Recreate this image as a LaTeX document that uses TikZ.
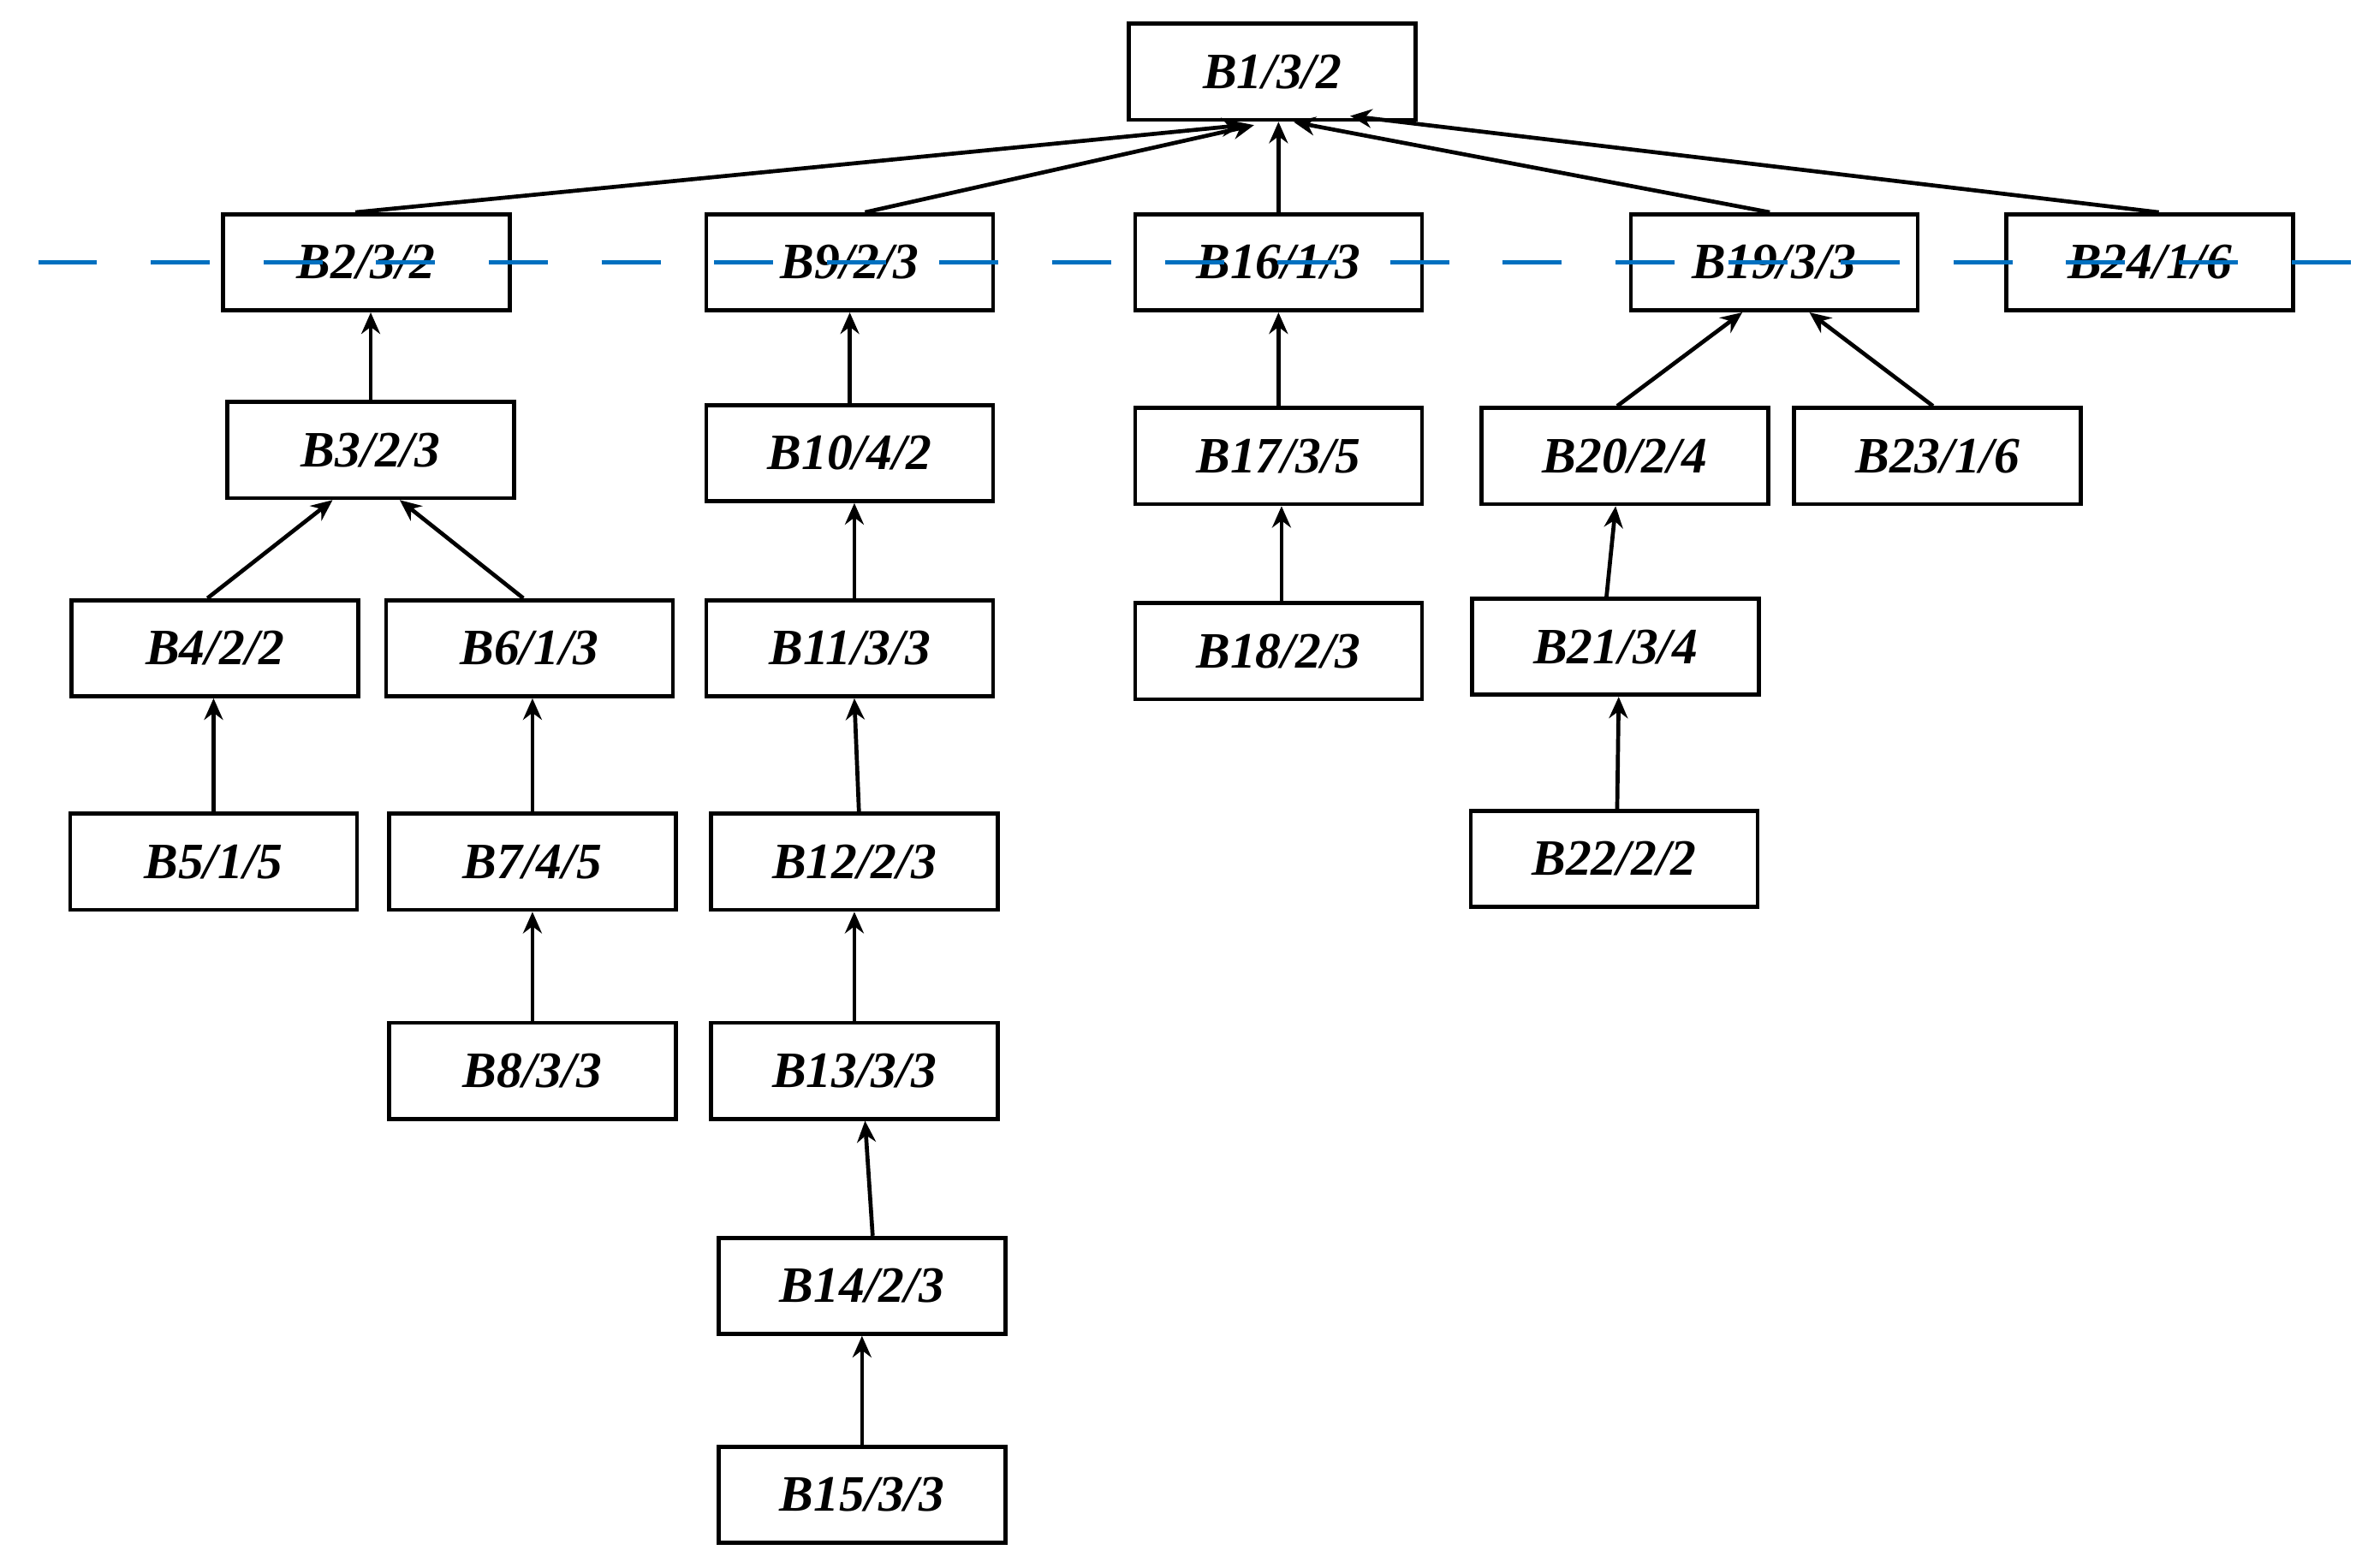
\documentclass[tikz,border=0pt]{standalone}
\usepackage{fontspec}
\setmainfont{Liberation Serif}
\usetikzlibrary{arrows.meta}
\begin{document}
\begin{tikzpicture}[x=0.01cm,y=-0.01cm,
  b/.style={draw,line width=0.75pt,minimum width=188*0.01cm,minimum height=63*0.01cm,inner sep=0pt,font=\fontsize{9.5}{11}\selectfont\bfseries\itshape},
  a/.style={line width=0.75pt,-{Stealth[length=4pt,width=3.5pt]}}]
\useasboundingbox (0,0) rectangle (1560,1023.6);
\node[b] (B1) at (834,47) {B1/3/2};
\node[b] (B2) at (240,172) {B2/3/2};
\node[b] (B9) at (557,172) {B9/2/3};
\node[b] (B16) at (838,172) {B16/1/3};
\node[b] (B19) at (1163,172) {B19/3/3};
\node[b] (B24) at (1409,172) {B24/1/6};
\node[b] (B3) at (243,295) {B3/2/3};
\node[b] (B10) at (557,297) {B10/4/2};
\node[b] (B17) at (838,299) {B17/3/5};
\node[b] (B20) at (1065,299) {B20/2/4};
\node[b] (B23) at (1270,299) {B23/1/6};
\node[b] (B4) at (141,425) {B4/2/2};
\node[b] (B6) at (347,425) {B6/1/3};
\node[b] (B11) at (557,425) {B11/3/3};
\node[b] (B18) at (838,427) {B18/2/3};
\node[b] (B21) at (1059,424) {B21/3/4};
\node[b] (B5) at (140,565) {B5/1/5};
\node[b] (B7) at (349,565) {B7/4/5};
\node[b] (B12) at (560,565) {B12/2/3};
\node[b] (B22) at (1058,563) {B22/2/2};
\node[b] (B8) at (349,702) {B8/3/3};
\node[b] (B13) at (560,702) {B13/3/3};
\node[b] (B14) at (565,843) {B14/2/3};
\node[b] (B15) at (565,980) {B15/3/3};
\coordinate (p1) at (815,82);
\coordinate (p2) at (822,82);
\coordinate (p4) at (848,80);
\coordinate (p5) at (885,76);
\draw[a] ([xshift=-7*0.01cm]B2.north) -- (p1);
\draw[a] ([xshift=10*0.01cm]B9.north) -- (p2);
\draw[a] (B16.north) -- (B1.south -| B16.north);
\draw[a] ([xshift=-3*0.01cm]B19.north) -- (p4);
\draw[a] ([xshift=6*0.01cm]B24.north) -- (p5);
\draw[a] (B3.north) -- (B2.south -| B3.north);
\draw[a] ([xshift=-5*0.01cm]B4.north) -- ([xshift=-25*0.01cm]B3.south);
\draw[a] ([xshift=-4*0.01cm]B6.north) -- ([xshift=19*0.01cm]B3.south);
\draw[a] (B5.north) -- (B4.south -| B5.north);
\draw[a] (B7.north) -- (B6.south -| B7.north);
\draw[a] (B8.north) -- (B7.south -| B8.north);
\draw[a] (B10.north) -- (B9.south -| B10.north);
\draw[a] ([xshift=3*0.01cm]B11.north) -- ([xshift=3*0.01cm]B10.south);
\draw[a] ([xshift=3*0.01cm]B12.north) -- ([xshift=3*0.01cm]B11.south);
\draw[a] (B13.north) -- (B12.south);
\draw[a] ([xshift=7*0.01cm]B14.north) -- ([xshift=7*0.01cm]B13.south);
\draw[a] (B15.north) -- (B14.south);
\draw[a] (B17.north) -- (B16.south);
\draw[a] ([xshift=2*0.01cm]B18.north) -- ([xshift=2*0.01cm]B17.south);
\draw[a] ([xshift=-5*0.01cm]B20.north) -- ([xshift=-21*0.01cm]B19.south);
\draw[a] ([xshift=-3*0.01cm]B23.north) -- ([xshift=23*0.01cm]B19.south);
\draw[a] ([xshift=-6*0.01cm]B21.north) -- ([xshift=-6*0.01cm]B20.south);
\draw[a] ([xshift=2*0.01cm]B22.north) -- ([xshift=2*0.01cm]B21.south);
\definecolor{dblue}{RGB}{0,112,192}
\coordinate (dl) at (25,172);
\coordinate (dr) at (1555,172);
\draw[dblue,line width=0.85pt,dash pattern=on 11pt off 10pt] (dl) -- (dr);
\end{tikzpicture}
\end{document}
